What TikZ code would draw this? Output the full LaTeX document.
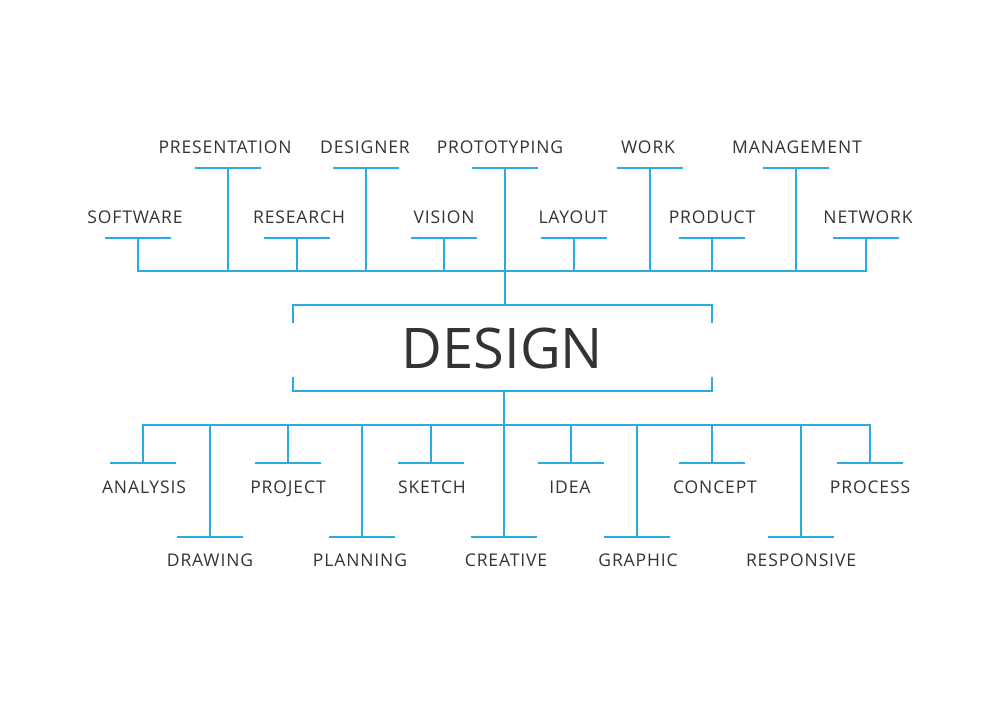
\documentclass[tikz,border=0pt]{standalone}
\usepackage{fontspec}
\setmainfont{Open Sans}
\newfontfamily\wordfont[LetterSpace=5]{Open Sans}
\definecolor{lineblue}{RGB}{41,171,226}
\definecolor{textgray}{RGB}{51,51,51}

\begin{document}
\begin{tikzpicture}[x=1pt,y=-1pt,
    line/.style={draw=lineblue,line width=2.5pt},
    word/.style={anchor=base,text=textgray,inner sep=0pt,font=\wordfont\fontsize{17.5}{20}\selectfont}]
    \useasboundingbox (0,0) rectangle (1000,707);

    % centre box
    \node[text=textgray,inner sep=0pt,minimum width=419pt,minimum height=86pt,
          font=\fontsize{56}{60}\selectfont] (design) at (502.5,348) {DESIGN};
    \coordinate (tbus) at (505,271);
    \coordinate (bbus) at (504,425);

    % upper words, long stems
    \node[word] (pres) at (225,153) {PRESENTATION};
    \node[word] (desr) at (365,153) {DESIGNER};
    \node[word] (prot) at (500,153) {PROTOTYPING};
    \node[word] (work) at (648,153) {WORK};
    \node[word] (mana) at (797,153) {MANAGEMENT};
    \coordinate (pres-b) at (228,168);
    \coordinate (desr-b) at (366,168);
    \coordinate (prot-b) at (505,168);
    \coordinate (work-b) at (650,168);
    \coordinate (mana-b) at (796,168);

    % upper words, short stems
    \node[word] (soft) at (135,223) {SOFTWARE};
    \node[word] (rese) at (299,223) {RESEARCH};
    \node[word] (visi) at (444,223) {VISION};
    \node[word] (layo) at (573,223) {LAYOUT};
    \node[word] (prod) at (712,223) {PRODUCT};
    \node[word] (netw) at (868,223) {NETWORK};
    \coordinate (soft-b) at (138,238);
    \coordinate (rese-b) at (297,238);
    \coordinate (visi-b) at (444,238);
    \coordinate (layo-b) at (574,238);
    \coordinate (prod-b) at (712,238);
    \coordinate (netw-b) at (866,238);

    % lower words, short stems
    \node[word] (anal) at (144,493) {ANALYSIS};
    \node[word] (proj) at (288,493) {PROJECT};
    \node[word] (sket) at (432,493) {SKETCH};
    \node[word] (idea) at (570,493) {IDEA};
    \node[word] (conc) at (715,493) {CONCEPT};
    \node[word] (proc) at (870,493) {PROCESS};
    \coordinate (anal-b) at (143,463);
    \coordinate (proj-b) at (288,463);
    \coordinate (sket-b) at (431,463);
    \coordinate (idea-b) at (571,463);
    \coordinate (conc-b) at (712,463);
    \coordinate (proc-b) at (870,463);

    % lower words, long stems
    \node[word] (draw) at (210,566) {DRAWING};
    \node[word] (plan) at (360,566) {PLANNING};
    \node[word] (crea) at (506,566) {CREATIVE};
    \node[word] (grap) at (638,566) {GRAPHIC};
    \node[word] (resp) at (801,566) {RESPONSIVE};
    \coordinate (draw-b) at (210,537);
    \coordinate (plan-b) at (362,537);
    \coordinate (crea-b) at (504,537);
    \coordinate (grap-b) at (637,537);
    \coordinate (resp-b) at (801,537);

    % box brackets
    \path[line] ([yshift=-18pt]design.north west) -- (design.north west) -- (design.north east) -- ([yshift=-18pt]design.north east);
    \path[line] ([yshift=14pt]design.south west) -- (design.south west) -- (design.south east) -- ([yshift=14pt]design.south east);

    % buses
    \path[line] (soft-b) -- (soft-b |- tbus) -- (netw-b |- tbus) -- (netw-b);
    \path[line] (anal-b) -- (anal-b |- bbus) -- (proc-b |- bbus) -- (proc-b);
    \path[line] (prot-b) -- (prot-b |- design.north);
    \path[line] (crea-b) -- (crea-b |- design.south);

    % stems
    \path[line] (pres-b) -- (pres-b |- tbus);
    \path[line] (desr-b) -- (desr-b |- tbus);
    \path[line] (work-b) -- (work-b |- tbus);
    \path[line] (mana-b) -- (mana-b |- tbus);
    \path[line] (rese-b) -- (rese-b |- tbus);
    \path[line] (visi-b) -- (visi-b |- tbus);
    \path[line] (layo-b) -- (layo-b |- tbus);
    \path[line] (prod-b) -- (prod-b |- tbus);
    \path[line] (draw-b) -- (draw-b |- bbus);
    \path[line] (plan-b) -- (plan-b |- bbus);
    \path[line] (grap-b) -- (grap-b |- bbus);
    \path[line] (resp-b) -- (resp-b |- bbus);
    \path[line] (proj-b) -- (proj-b |- bbus);
    \path[line] (sket-b) -- (sket-b |- bbus);
    \path[line] (idea-b) -- (idea-b |- bbus);
    \path[line] (conc-b) -- (conc-b |- bbus);

    % bars
    \foreach \b in {pres,desr,prot,work,mana,soft,rese,visi,layo,prod,netw,
                    anal,proj,sket,idea,conc,proc,draw,plan,crea,grap,resp}
        \path[line] (\b-b) ++(-33,0) -- ++(66,0);
\end{tikzpicture}
\end{document}
